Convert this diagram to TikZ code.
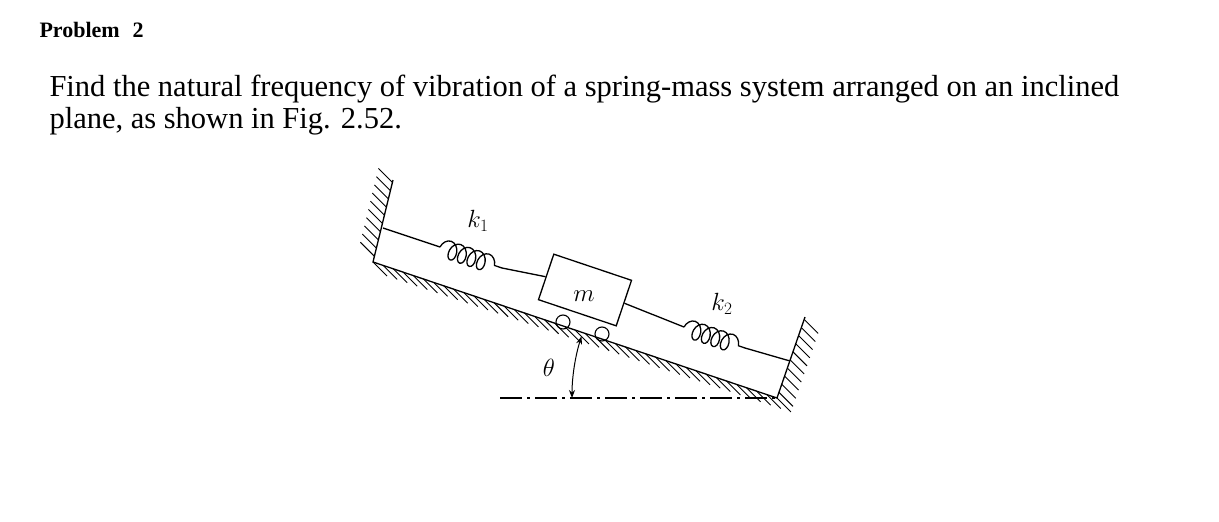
\documentclass[tikz,border=0pt]{standalone}
\usepackage{fontspec}
\setmainfont{Liberation Serif}
\usetikzlibrary{decorations.pathmorphing,arrows.meta,calc}
\begin{document}
\begin{tikzpicture}[x=1pt,y=-1pt,
  ln/.style={line width=1.3pt},
  hatch/.style={line width=0.9pt},
  coilst/.style={line width=1.3pt,decorate,decoration={coil,aspect=0.7,amplitude=9pt,segment length=10pt}},
  lbl/.style={font=\fontsize{25}{28}\selectfont}]
\useasboundingbox (0,0) rectangle (1219,522);
\node[anchor=west,font=\fontsize{22}{26}\selectfont\bfseries] (title) at (36,30) {Problem\,\, 2};
\node[anchor=west,font=\fontsize{30.5}{34}\selectfont] (l1) at (46,89) {Find the natural frequency of vibration of a spring-mass system arranged on an inclined};
\node[anchor=west,font=\fontsize{30.5}{34}\selectfont] (l2) at (46,121) {plane, as shown in Fig. 2.52.};
% geometry
\coordinate (W1) at (393,180);
\coordinate (A) at (373,262);
\coordinate (B) at (777,398);
\coordinate (W2) at (805,317);
\draw[ln] (W1) -- (A) -- (B) -- (W2);
\foreach \t in {0.0,0.025,...,1.0} \draw[hatch] ($(A)!\t!(B)$) -- ++(14,14);
\foreach \t in {0.03,0.13,...,1.0} \draw[hatch] ($(W1)!\t!(A)$) -- ++(-14,-14);
\foreach \t in {0.03,0.13,...,1.0} \draw[hatch] ($(W2)!\t!(B)$) -- ++(14,14);
% mass
\node[draw,ln,minimum width=82pt,minimum height=48pt,rotate=-18.6] (m) at (585,290) {};
\node[lbl] (ml) at (584,296) {$m$};
\draw[line width=1.1pt] (563,322) circle (7pt) (602,334) circle (7pt);
% springs
\coordinate (S1) at (383,228);
\coordinate (S2) at (790,361);
\draw[ln] (S1) -- (440,247);
\draw[coilst] (440,247) -- (502,268);
\draw[ln] (502,268) -- (m.west);
\draw[ln] (m.east) -- (684,327);
\draw[coilst] (684,327) -- (745,348);
\draw[ln] (745,348) -- (S2);
\node[lbl] (k1) at (478,221) {$k_1$};
\node[lbl] (k2) at (722,304) {$k_2$};
% angle
\draw[line width=1.1pt,dash pattern=on 22pt off 5pt on 3pt off 5pt] (500,398) -- (B);
\draw[line width=1pt,{Stealth[length=8pt]}-{Stealth[length=8pt]}] (572,398) arc[start angle=180,end angle=162.5,radius=205pt];
\node[lbl] (th) at (549,368) {$\theta$};
\end{tikzpicture}
\end{document}
